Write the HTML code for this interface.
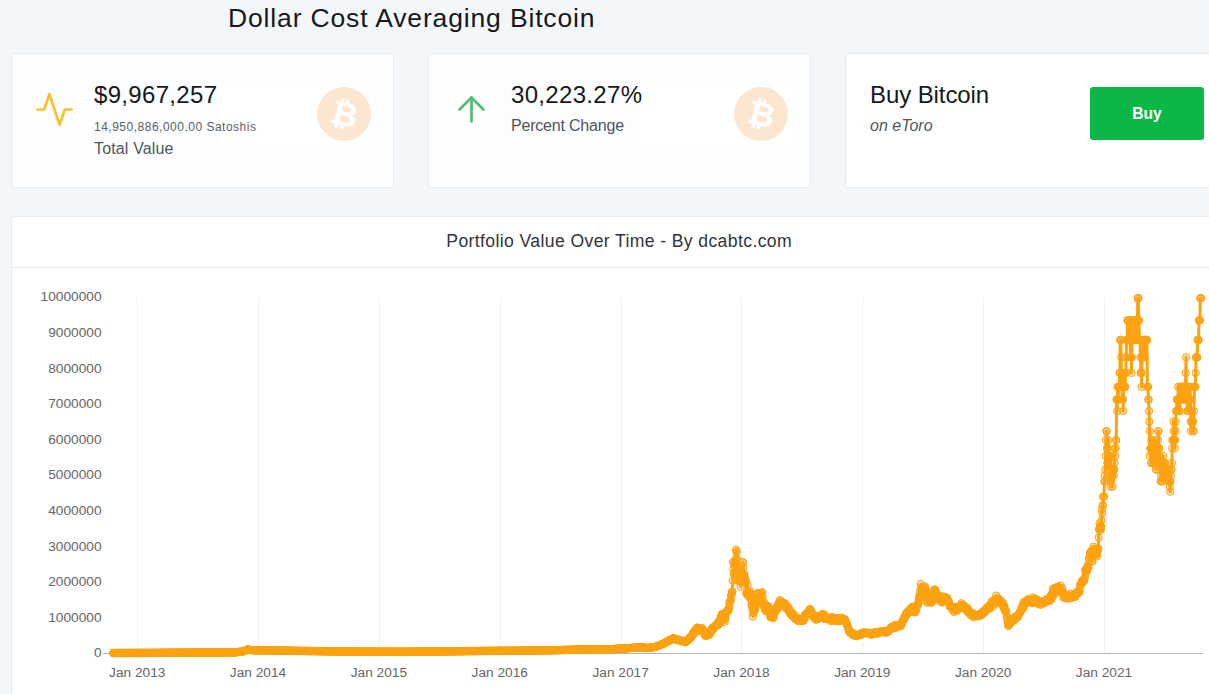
<!DOCTYPE html>
<html lang="en">
<head>
<meta charset="utf-8">
<title>Dollar Cost Averaging Bitcoin</title>
<style>
*{box-sizing:border-box;margin:0;padding:0}
html,body{width:1209px;height:694px;overflow:hidden;background:#f4f7fa}
body{font-family:"Liberation Sans",sans-serif;color:#111;position:relative}
.title{position:absolute;left:228px;top:3px;font-size:26.5px;line-height:30px;color:#16181b;white-space:nowrap;letter-spacing:0.85px}
.card{position:absolute;top:53px;height:135px;width:383px;background:#fcfdfe;border:1px solid #e7ebf1;border-radius:3px}
.card.c3{width:400px;background:#fff}
.wash{position:absolute;background:#fff;left:209px;top:32px;width:154px;height:58px}
.coin{position:absolute;left:305.3px;top:33px;width:54px;height:54px}
.ico{position:absolute;left:22px;top:35.4px;width:41px;height:41px}
.big{position:absolute;left:82px;top:26.6px;font-size:24px;line-height:28px;color:#16181b;white-space:nowrap;letter-spacing:.32px}
.sat{position:absolute;left:82px;top:66px;font-size:12px;line-height:14px;color:#5a5f66;white-space:nowrap;letter-spacing:.5px}
.lab{position:absolute;left:82px;font-size:16px;line-height:18px;color:#50555c;white-space:nowrap}
.btn{position:absolute;left:244px;top:33.2px;width:114px;height:53px;background:#0bb847;border-radius:3px;color:#fff;font-size:15.6px;font-weight:bold;text-align:center;line-height:53px}
.chartcard{position:absolute;left:11px;top:216px;width:1210px;height:500px;background:#fff;border:1px solid #e7ebf1;border-radius:3px}
.chead{position:absolute;left:0;top:0;width:100%;height:51px;border-bottom:1px solid #e7ebf1}
.ctitle{position:absolute;left:434.3px;top:13.4px;font-size:17.6px;line-height:22px;color:#2f353b;white-space:nowrap;letter-spacing:.38px}
svg text{font-family:"Liberation Sans",sans-serif}
</style>
</head>
<body>
<div class="title">Dollar Cost Averaging Bitcoin</div>

<div class="card" style="left:11px">
  <div class="wash"></div>
  <svg class="ico" viewBox="0 0 24 24" fill="none" stroke="#f4c22b" stroke-width="1.6" stroke-linecap="round" stroke-linejoin="round"><polyline points="22 12 18 12 15 21 9 3 6 12 2 12"/></svg>
  <div class="big">$9,967,257</div>
  <div class="sat">14,950,886,000.00 Satoshis</div>
  <div class="lab" style="top:86.4px;letter-spacing:.15px">Total Value</div>
  <svg class="coin" viewBox="0 0 54 54"><circle cx="27" cy="27" r="27" fill="#fde6cf"/><text x="27.5" y="38.5" font-size="33" font-weight="bold" fill="#fff" text-anchor="middle" transform="rotate(14 27 27)">₿</text></svg>
</div>

<div class="card" style="left:428px">
  <div class="wash"></div>
  <svg class="ico" viewBox="0 0 24 24" fill="none" stroke="#52be72" stroke-width="1.6" stroke-linecap="round" stroke-linejoin="round"><line x1="12" y1="19" x2="12" y2="5"/><polyline points="5 12 12 5 19 12"/></svg>
  <div class="big">30,223.27%</div>
  <div class="lab" style="top:63.3px;letter-spacing:-.2px">Percent Change</div>
  <svg class="coin" viewBox="0 0 54 54"><circle cx="27" cy="27" r="27" fill="#fde6cf"/><text x="27.5" y="38.5" font-size="33" font-weight="bold" fill="#fff" text-anchor="middle" transform="rotate(14 27 27)">₿</text></svg>
</div>

<div class="card c3" style="left:845px">
  <div class="big" style="left:24px;letter-spacing:-.09px">Buy Bitcoin</div>
  <div class="lab" style="left:24px;top:63px;font-style:italic">on eToro</div>
  <div class="btn">Buy</div>
</div>

<div class="chartcard">
  <div class="chead"><div class="ctitle">Portfolio Value Over Time - By dcabtc.com</div></div>
</div>

<svg id="chart" width="1209" height="694" viewBox="0 0 1209 694" style="position:absolute;left:0;top:0">
  <g id="grid" stroke="#f2f3f4" stroke-width="1"><line x1="137.5" y1="297" x2="137.5" y2="653"/><line x1="258.5" y1="297" x2="258.5" y2="653"/><line x1="379.5" y1="297" x2="379.5" y2="653"/><line x1="500.5" y1="297" x2="500.5" y2="653"/><line x1="621.5" y1="297" x2="621.5" y2="653"/><line x1="741.5" y1="297" x2="741.5" y2="653"/><line x1="862.5" y1="297" x2="862.5" y2="653"/><line x1="983.5" y1="297" x2="983.5" y2="653"/><line x1="1104.5" y1="297" x2="1104.5" y2="653"/></g><line x1="103" y1="653.5" x2="1203" y2="653.5" stroke="#b4b4b4"/>
  <g id="ylab" font-size="13.7" fill="#666" text-anchor="end"><text x="101.5" y="657.4">0</text><text x="101.5" y="621.8">1000000</text><text x="101.5" y="586.2">2000000</text><text x="101.5" y="550.6">3000000</text><text x="101.5" y="515.0">4000000</text><text x="101.5" y="479.4">5000000</text><text x="101.5" y="443.8">6000000</text><text x="101.5" y="408.2">7000000</text><text x="101.5" y="372.6">8000000</text><text x="101.5" y="337.0">9000000</text><text x="101.5" y="301.4">10000000</text></g>
  <g id="xlab" font-size="13.7" fill="#666" text-anchor="middle"><text x="137.2" y="676.6">Jan 2013</text><text x="258.0" y="676.6">Jan 2014</text><text x="378.9" y="676.6">Jan 2015</text><text x="499.7" y="676.6">Jan 2016</text><text x="620.6" y="676.6">Jan 2017</text><text x="741.5" y="676.6">Jan 2018</text><text x="862.3" y="676.6">Jan 2019</text><text x="983.1" y="676.6">Jan 2020</text><text x="1104.0" y="676.6">Jan 2021</text></g>
<g id="series"><defs><marker id="pt" markerUnits="userSpaceOnUse" markerWidth="10" markerHeight="10" refX="5" refY="5" viewBox="0 0 10 10"><circle cx="5" cy="5" r="3.65" fill="#fca311" fill-opacity=".3" stroke="#fca311" stroke-width="1"/></marker></defs><polyline points="113,653 113.33,653 113.66,653 113.99,653 114.32,653 114.65,653 114.99,652.99 115.32,652.99 115.65,652.99 115.98,652.99 116.31,652.99 116.64,652.99 116.97,652.99 117.3,652.99 117.63,652.99 117.96,652.99 118.29,652.99 118.62,652.98 118.96,652.98 119.29,652.98 119.62,652.98 119.95,652.98 120.28,652.98 120.61,652.98 120.94,652.98 121.27,652.98 121.6,652.98 121.93,652.98 122.26,652.97 122.6,652.97 122.93,652.97 123.26,652.97 123.59,652.97 123.92,652.97 124.25,652.97 124.58,652.97 124.91,652.97 125.24,652.97 125.57,652.97 125.9,652.97 126.23,652.96 126.57,652.96 126.9,652.96 127.23,652.96 127.56,652.96 127.89,652.96 128.22,652.96 128.55,652.96 128.88,652.96 129.21,652.96 129.54,652.96 129.87,652.95 130.21,652.95 130.54,652.95 130.87,652.95 131.2,652.95 131.53,652.95 131.86,652.95 132.19,652.95 132.52,652.95 132.85,652.95 133.18,652.95 133.51,652.94 133.84,652.94 134.18,652.94 134.51,652.94 134.84,652.94 135.17,652.94 135.5,652.94 135.83,652.94 136.16,652.94 136.49,652.94 136.82,652.94 137.15,652.93 137.48,652.93 137.82,652.93 138.15,652.93 138.48,652.93 138.81,652.93 139.14,652.93 139.47,652.93 139.8,652.93 140.13,652.93 140.46,652.93 140.79,652.92 141.12,652.92 141.45,652.92 141.79,652.92 142.12,652.92 142.45,652.92 142.78,652.92 143.11,652.92 143.44,652.92 143.77,652.92 144.1,652.92 144.43,652.92 144.76,652.91 145.09,652.91 145.43,652.91 145.76,652.91 146.09,652.91 146.42,652.91 146.75,652.91 147.08,652.91 147.41,652.91 147.74,652.91 148.07,652.91 148.4,652.9 148.73,652.9 149.06,652.9 149.4,652.9 149.73,652.9 150.06,652.9 150.39,652.9 150.72,652.9 151.05,652.89 151.38,652.89 151.71,652.89 152.04,652.89 152.37,652.89 152.7,652.88 153.04,652.88 153.37,652.88 153.7,652.88 154.03,652.88 154.36,652.87 154.69,652.87 155.02,652.87 155.35,652.87 155.68,652.87 156.01,652.86 156.34,652.86 156.67,652.86 157.01,652.86 157.34,652.86 157.67,652.85 158,652.85 158.33,652.85 158.66,652.85 158.99,652.85 159.32,652.84 159.65,652.84 159.98,652.84 160.31,652.84 160.65,652.84 160.98,652.83 161.31,652.83 161.64,652.83 161.97,652.83 162.3,652.83 162.63,652.82 162.96,652.82 163.29,652.82 163.62,652.82 163.95,652.82 164.28,652.81 164.62,652.81 164.95,652.81 165.28,652.81 165.61,652.81 165.94,652.8 166.27,652.8 166.6,652.8 166.93,652.8 167.26,652.8 167.59,652.79 167.92,652.79 168.26,652.79 168.59,652.79 168.92,652.79 169.25,652.78 169.58,652.78 169.91,652.78 170.24,652.78 170.57,652.78 170.9,652.77 171.23,652.77 171.56,652.77 171.89,652.77 172.23,652.77 172.56,652.76 172.89,652.76 173.22,652.76 173.55,652.76 173.88,652.76 174.21,652.75 174.54,652.75 174.87,652.75 175.2,652.75 175.53,652.75 175.87,652.74 176.2,652.74 176.53,652.74 176.86,652.74 177.19,652.74 177.52,652.73 177.85,652.73 178.18,652.73 178.51,652.73 178.84,652.73 179.17,652.72 179.5,652.72 179.84,652.72 180.17,652.72 180.5,652.72 180.83,652.72 181.16,652.71 181.49,652.71 181.82,652.71 182.15,652.71 182.48,652.71 182.81,652.7 183.14,652.7 183.48,652.7 183.81,652.7 184.14,652.7 184.47,652.69 184.8,652.69 185.13,652.69 185.46,652.69 185.79,652.69 186.12,652.68 186.45,652.68 186.78,652.68 187.11,652.68 187.45,652.68 187.78,652.67 188.11,652.67 188.44,652.67 188.77,652.67 189.1,652.67 189.43,652.66 189.76,652.66 190.09,652.66 190.42,652.66 190.75,652.66 191.09,652.65 191.42,652.65 191.75,652.65 192.08,652.65 192.41,652.65 192.74,652.64 193.07,652.64 193.4,652.64 193.73,652.64 194.06,652.64 194.39,652.63 194.72,652.63 195.06,652.63 195.39,652.63 195.72,652.63 196.05,652.62 196.38,652.62 196.71,652.62 197.04,652.62 197.37,652.62 197.7,652.61 198.03,652.61 198.36,652.61 198.7,652.61 199.03,652.61 199.36,652.6 199.69,652.6 200.02,652.6 200.35,652.6 200.68,652.59 201.01,652.59 201.34,652.59 201.67,652.59 202,652.58 202.33,652.58 202.67,652.58 203,652.57 203.33,652.57 203.66,652.57 203.99,652.57 204.32,652.56 204.65,652.56 204.98,652.56 205.31,652.55 205.64,652.55 205.97,652.55 206.31,652.55 206.64,652.54 206.97,652.54 207.3,652.54 207.63,652.53 207.96,652.53 208.29,652.53 208.62,652.53 208.95,652.52 209.28,652.52 209.61,652.52 209.94,652.51 210.28,652.51 210.61,652.51 210.94,652.51 211.27,652.5 211.6,652.5 211.93,652.5 212.26,652.49 212.59,652.49 212.92,652.49 213.25,652.49 213.58,652.48 213.92,652.48 214.25,652.48 214.58,652.48 214.91,652.47 215.24,652.47 215.57,652.47 215.9,652.46 216.23,652.46 216.56,652.46 216.89,652.46 217.22,652.45 217.55,652.45 217.89,652.45 218.22,652.44 218.55,652.44 218.88,652.44 219.21,652.44 219.54,652.43 219.87,652.43 220.2,652.43 220.53,652.42 220.86,652.42 221.19,652.42 221.53,652.42 221.86,652.41 222.19,652.41 222.52,652.41 222.85,652.4 223.18,652.4 223.51,652.4 223.84,652.4 224.17,652.39 224.5,652.39 224.83,652.39 225.16,652.38 225.5,652.38 225.83,652.38 226.16,652.38 226.49,652.37 226.82,652.37 227.15,652.37 227.48,652.36 227.81,652.36 228.14,652.36 228.47,652.36 228.8,652.35 229.14,652.35 229.47,652.35 229.8,652.34 230.13,652.34 230.46,652.34 230.79,652.34 231.12,652.33 231.45,652.33 231.78,652.33 232.11,652.32 232.44,652.32 232.77,652.32 233.11,652.32 233.44,652.31 233.77,652.31 234.1,652.31 234.43,652.3 234.76,652.3 235.09,652.29 235.42,652.26 235.75,652.22 236.08,652.19 236.41,652.16 236.75,652.13 237.08,652.09 237.41,652.06 237.74,652.03 238.07,651.99 238.4,651.96 238.73,651.93 239.06,651.89 239.39,651.86 239.72,651.83 240.05,651.79 240.38,651.76 240.72,651.73 241.05,651.7 241.38,651.66 241.71,651.63 242.04,651.6 242.37,651.56 242.7,651.53 243.03,651.49 243.36,651.36 243.69,651.22 244.02,651.09 244.36,650.96 244.69,650.83 245.02,650.69 245.35,650.56 245.68,650.43 246.01,650.29 246.34,650.11 246.67,649.93 247,649.74 247.33,649.56 247.66,649.38 247.99,649.36 248.33,649.47 248.66,649.57 248.99,649.68 249.32,649.78 249.65,649.89 249.98,649.99 250.31,650.02 250.64,650.04 250.97,650.06 251.3,650.08 251.63,650.1 251.97,650.12 252.3,650.14 252.63,650.16 252.96,650.18 253.29,650.2 253.62,650.22 253.95,650.24 254.28,650.26 254.61,650.28 254.94,650.3 255.27,650.3 255.6,650.3 255.94,650.3 256.27,650.3 256.6,650.3 256.93,650.3 257.26,650.3 257.59,650.3 257.92,650.3 258.25,650.3 258.58,650.3 258.91,650.3 259.24,650.3 259.58,650.3 259.91,650.3 260.24,650.3 260.57,650.3 260.9,650.3 261.23,650.3 261.56,650.3 261.89,650.3 262.22,650.3 262.55,650.31 262.88,650.31 263.21,650.32 263.55,650.32 263.88,650.33 264.21,650.33 264.54,650.34 264.87,650.34 265.2,650.35 265.53,650.35 265.86,650.36 266.19,650.36 266.52,650.37 266.85,650.37 267.19,650.38 267.52,650.38 267.85,650.39 268.18,650.4 268.51,650.4 268.84,650.41 269.17,650.41 269.5,650.42 269.83,650.42 270.16,650.43 270.49,650.43 270.82,650.44 271.16,650.44 271.49,650.45 271.82,650.45 272.15,650.46 272.48,650.46 272.81,650.47 273.14,650.47 273.47,650.48 273.8,650.48 274.13,650.49 274.46,650.49 274.8,650.5 275.13,650.5 275.46,650.51 275.79,650.51 276.12,650.52 276.45,650.52 276.78,650.53 277.11,650.53 277.44,650.54 277.77,650.54 278.1,650.55 278.43,650.55 278.77,650.56 279.1,650.57 279.43,650.57 279.76,650.58 280.09,650.58 280.42,650.59 280.75,650.59 281.08,650.6 281.41,650.6 281.74,650.61 282.07,650.61 282.41,650.62 282.74,650.62 283.07,650.63 283.4,650.63 283.73,650.64 284.06,650.64 284.39,650.65 284.72,650.66 285.05,650.66 285.38,650.67 285.71,650.67 286.04,650.68 286.38,650.68 286.71,650.69 287.04,650.69 287.37,650.7 287.7,650.7 288.03,650.71 288.36,650.71 288.69,650.72 289.02,650.72 289.35,650.73 289.68,650.73 290.02,650.74 290.35,650.75 290.68,650.75 291.01,650.76 291.34,650.76 291.67,650.77 292,650.77 292.33,650.78 292.66,650.78 292.99,650.79 293.32,650.79 293.65,650.8 293.99,650.8 294.32,650.81 294.65,650.81 294.98,650.82 295.31,650.82 295.64,650.83 295.97,650.84 296.3,650.84 296.63,650.85 296.96,650.85 297.29,650.86 297.63,650.86 297.96,650.87 298.29,650.87 298.62,650.88 298.95,650.88 299.28,650.89 299.61,650.89 299.94,650.9 300.27,650.9 300.6,650.91 300.93,650.91 301.26,650.92 301.6,650.92 301.93,650.93 302.26,650.93 302.59,650.93 302.92,650.94 303.25,650.94 303.58,650.95 303.91,650.95 304.24,650.96 304.57,650.96 304.9,650.97 305.24,650.97 305.57,650.97 305.9,650.98 306.23,650.98 306.56,650.99 306.89,650.99 307.22,651 307.55,651 307.88,651.01 308.21,651.01 308.54,651.01 308.87,651.02 309.21,651.02 309.54,651.03 309.87,651.03 310.2,651.04 310.53,651.04 310.86,651.04 311.19,651.05 311.52,651.05 311.85,651.06 312.18,651.06 312.51,651.07 312.85,651.07 313.18,651.08 313.51,651.08 313.84,651.08 314.17,651.09 314.5,651.09 314.83,651.1 315.16,651.1 315.49,651.11 315.82,651.11 316.15,651.12 316.48,651.12 316.82,651.12 317.15,651.13 317.48,651.13 317.81,651.14 318.14,651.14 318.47,651.15 318.8,651.15 319.13,651.16 319.46,651.16 319.79,651.16 320.12,651.17 320.46,651.17 320.79,651.18 321.12,651.18 321.45,651.19 321.78,651.19 322.11,651.19 322.44,651.2 322.77,651.2 323.1,651.21 323.43,651.21 323.76,651.22 324.09,651.22 324.43,651.23 324.76,651.23 325.09,651.23 325.42,651.24 325.75,651.24 326.08,651.25 326.41,651.25 326.74,651.26 327.07,651.26 327.4,651.27 327.73,651.27 328.07,651.27 328.4,651.28 328.73,651.28 329.06,651.29 329.39,651.29 329.72,651.3 330.05,651.3 330.38,651.3 330.71,651.31 331.04,651.31 331.37,651.31 331.7,651.32 332.04,651.32 332.37,651.32 332.7,651.33 333.03,651.33 333.36,651.33 333.69,651.34 334.02,651.34 334.35,651.34 334.68,651.35 335.01,651.35 335.34,651.35 335.68,651.36 336.01,651.36 336.34,651.36 336.67,651.37 337,651.37 337.33,651.37 337.66,651.38 337.99,651.38 338.32,651.38 338.65,651.39 338.98,651.39 339.31,651.39 339.65,651.4 339.98,651.4 340.31,651.4 340.64,651.41 340.97,651.41 341.3,651.41 341.63,651.42 341.96,651.42 342.29,651.42 342.62,651.43 342.95,651.43 343.29,651.43 343.62,651.44 343.95,651.44 344.28,651.44 344.61,651.45 344.94,651.45 345.27,651.45 345.6,651.46 345.93,651.46 346.26,651.46 346.59,651.47 346.92,651.47 347.26,651.47 347.59,651.48 347.92,651.48 348.25,651.48 348.58,651.49 348.91,651.49 349.24,651.49 349.57,651.5 349.9,651.5 350.23,651.5 350.56,651.51 350.9,651.51 351.23,651.51 351.56,651.52 351.89,651.52 352.22,651.52 352.55,651.53 352.88,651.53 353.21,651.53 353.54,651.54 353.87,651.54 354.2,651.54 354.53,651.55 354.87,651.55 355.2,651.55 355.53,651.56 355.86,651.56 356.19,651.56 356.52,651.57 356.85,651.57 357.18,651.57 357.51,651.58 357.84,651.58 358.17,651.58 358.5,651.59 358.84,651.59 359.17,651.59 359.5,651.59 359.83,651.6 360.16,651.6 360.49,651.6 360.82,651.6 361.15,651.61 361.48,651.61 361.81,651.61 362.14,651.61 362.48,651.61 362.81,651.61 363.14,651.62 363.47,651.62 363.8,651.62 364.13,651.62 364.46,651.62 364.79,651.62 365.12,651.63 365.45,651.63 365.78,651.63 366.11,651.63 366.45,651.63 366.78,651.63 367.11,651.64 367.44,651.64 367.77,651.64 368.1,651.64 368.43,651.64 368.76,651.64 369.09,651.65 369.42,651.65 369.75,651.65 370.09,651.65 370.42,651.65 370.75,651.65 371.08,651.66 371.41,651.66 371.74,651.66 372.07,651.66 372.4,651.66 372.73,651.66 373.06,651.67 373.39,651.67 373.72,651.67 374.06,651.67 374.39,651.67 374.72,651.67 375.05,651.68 375.38,651.68 375.71,651.68 376.04,651.68 376.37,651.68 376.7,651.68 377.03,651.69 377.36,651.69 377.7,651.69 378.03,651.69 378.36,651.69 378.69,651.69 379.02,651.7 379.35,651.7 379.68,651.7 380.01,651.7 380.34,651.7 380.67,651.7 381,651.71 381.33,651.71 381.67,651.71 382,651.71 382.33,651.71 382.66,651.71 382.99,651.71 383.32,651.72 383.65,651.72 383.98,651.72 384.31,651.72 384.64,651.72 384.97,651.72 385.31,651.73 385.64,651.73 385.97,651.73 386.3,651.73 386.63,651.73 386.96,651.73 387.29,651.74 387.62,651.74 387.95,651.74 388.28,651.74 388.61,651.74 388.94,651.74 389.28,651.75 389.61,651.75 389.94,651.75 390.27,651.75 390.6,651.75 390.93,651.75 391.26,651.76 391.59,651.76 391.92,651.76 392.25,651.76 392.58,651.76 392.92,651.76 393.25,651.77 393.58,651.77 393.91,651.77 394.24,651.77 394.57,651.77 394.9,651.77 395.23,651.78 395.56,651.78 395.89,651.78 396.22,651.78 396.55,651.78 396.89,651.78 397.22,651.79 397.55,651.79 397.88,651.79 398.21,651.79 398.54,651.79 398.87,651.79 399.2,651.8 399.53,651.8 399.86,651.8 400.19,651.8 400.53,651.79 400.86,651.79 401.19,651.79 401.52,651.78 401.85,651.78 402.18,651.78 402.51,651.77 402.84,651.77 403.17,651.77 403.5,651.76 403.83,651.76 404.16,651.76 404.5,651.76 404.83,651.75 405.16,651.75 405.49,651.75 405.82,651.74 406.15,651.74 406.48,651.74 406.81,651.73 407.14,651.73 407.47,651.73 407.8,651.72 408.14,651.72 408.47,651.72 408.8,651.71 409.13,651.71 409.46,651.71 409.79,651.7 410.12,651.7 410.45,651.7 410.78,651.69 411.11,651.69 411.44,651.69 411.77,651.68 412.11,651.68 412.44,651.68 412.77,651.67 413.1,651.67 413.43,651.67 413.76,651.66 414.09,651.66 414.42,651.66 414.75,651.65 415.08,651.65 415.41,651.65 415.75,651.64 416.08,651.64 416.41,651.64 416.74,651.63 417.07,651.63 417.4,651.63 417.73,651.62 418.06,651.62 418.39,651.62 418.72,651.61 419.05,651.61 419.38,651.61 419.72,651.6 420.05,651.6 420.38,651.6 420.71,651.59 421.04,651.59 421.37,651.59 421.7,651.58 422.03,651.58 422.36,651.58 422.69,651.57 423.02,651.57 423.36,651.57 423.69,651.56 424.02,651.56 424.35,651.56 424.68,651.55 425.01,651.55 425.34,651.55 425.67,651.54 426,651.54 426.33,651.54 426.66,651.53 426.99,651.53 427.33,651.53 427.66,651.52 427.99,651.52 428.32,651.52 428.65,651.51 428.98,651.51 429.31,651.51 429.64,651.5 429.97,651.5 430.3,651.5 430.63,651.49 430.97,651.49 431.3,651.49 431.63,651.48 431.96,651.48 432.29,651.48 432.62,651.47 432.95,651.47 433.28,651.47 433.61,651.46 433.94,651.46 434.27,651.46 434.6,651.45 434.94,651.45 435.27,651.45 435.6,651.44 435.93,651.44 436.26,651.44 436.59,651.43 436.92,651.43 437.25,651.43 437.58,651.42 437.91,651.42 438.24,651.42 438.58,651.41 438.91,651.41 439.24,651.41 439.57,651.4 439.9,651.4 440.23,651.4 440.56,651.39 440.89,651.39 441.22,651.39 441.55,651.38 441.88,651.38 442.21,651.38 442.55,651.37 442.88,651.37 443.21,651.37 443.54,651.36 443.87,651.36 444.2,651.36 444.53,651.35 444.86,651.35 445.19,651.35 445.52,651.34 445.85,651.34 446.19,651.34 446.52,651.33 446.85,651.33 447.18,651.33 447.51,651.32 447.84,651.32 448.17,651.32 448.5,651.31 448.83,651.31 449.16,651.31 449.49,651.3 449.82,651.3 450.16,651.3 450.49,651.29 450.82,651.29 451.15,651.29 451.48,651.28 451.81,651.28 452.14,651.28 452.47,651.27 452.8,651.27 453.13,651.27 453.46,651.26 453.8,651.26 454.13,651.26 454.46,651.25 454.79,651.25 455.12,651.25 455.45,651.24 455.78,651.24 456.11,651.24 456.44,651.23 456.77,651.23 457.1,651.23 457.43,651.22 457.77,651.22 458.1,651.22 458.43,651.21 458.76,651.21 459.09,651.21 459.42,651.2 459.75,651.2 460.08,651.2 460.41,651.19 460.74,651.19 461.07,651.18 461.41,651.18 461.74,651.18 462.07,651.17 462.4,651.17 462.73,651.17 463.06,651.16 463.39,651.16 463.72,651.16 464.05,651.15 464.38,651.15 464.71,651.15 465.04,651.14 465.38,651.14 465.71,651.14 466.04,651.13 466.37,651.13 466.7,651.13 467.03,651.12 467.36,651.12 467.69,651.12 468.02,651.11 468.35,651.11 468.68,651.11 469.02,651.1 469.35,651.1 469.68,651.1 470.01,651.09 470.34,651.09 470.67,651.09 471,651.08 471.33,651.08 471.66,651.08 471.99,651.07 472.32,651.07 472.65,651.07 472.99,651.06 473.32,651.06 473.65,651.06 473.98,651.05 474.31,651.05 474.64,651.05 474.97,651.04 475.3,651.04 475.63,651.04 475.96,651.03 476.29,651.03 476.63,651.03 476.96,651.02 477.29,651.02 477.62,651.02 477.95,651.01 478.28,651.01 478.61,651.01 478.94,651 479.27,651 479.6,651 479.93,650.99 480.26,650.99 480.6,650.99 480.93,650.98 481.26,650.98 481.59,650.98 481.92,650.97 482.25,650.97 482.58,650.97 482.91,650.96 483.24,650.96 483.57,650.96 483.9,650.95 484.24,650.95 484.57,650.95 484.9,650.94 485.23,650.94 485.56,650.94 485.89,650.93 486.22,650.93 486.55,650.92 486.88,650.92 487.21,650.92 487.54,650.91 487.87,650.91 488.21,650.91 488.54,650.9 488.87,650.9 489.2,650.9 489.53,650.9 489.86,650.89 490.19,650.89 490.52,650.89 490.85,650.89 491.18,650.89 491.51,650.88 491.85,650.88 492.18,650.88 492.51,650.88 492.84,650.88 493.17,650.87 493.5,650.87 493.83,650.87 494.16,650.87 494.49,650.86 494.82,650.86 495.15,650.86 495.48,650.86 495.82,650.86 496.15,650.85 496.48,650.85 496.81,650.85 497.14,650.85 497.47,650.85 497.8,650.84 498.13,650.84 498.46,650.84 498.79,650.84 499.12,650.83 499.46,650.83 499.79,650.83 500.12,650.83 500.45,650.83 500.78,650.82 501.11,650.82 501.44,650.82 501.77,650.82 502.1,650.82 502.43,650.81 502.76,650.81 503.09,650.81 503.43,650.81 503.76,650.8 504.09,650.8 504.42,650.8 504.75,650.8 505.08,650.8 505.41,650.79 505.74,650.79 506.07,650.79 506.4,650.79 506.73,650.79 507.07,650.78 507.4,650.78 507.73,650.78 508.06,650.78 508.39,650.77 508.72,650.77 509.05,650.77 509.38,650.77 509.71,650.77 510.04,650.76 510.37,650.76 510.7,650.76 511.04,650.76 511.37,650.76 511.7,650.75 512.03,650.75 512.36,650.75 512.69,650.75 513.02,650.75 513.35,650.74 513.68,650.74 514.01,650.74 514.34,650.74 514.68,650.73 515.01,650.73 515.34,650.73 515.67,650.73 516,650.73 516.33,650.72 516.66,650.72 516.99,650.72 517.32,650.72 517.65,650.72 517.98,650.71 518.31,650.71 518.65,650.71 518.98,650.71 519.31,650.7 519.64,650.7 519.97,650.7 520.3,650.7 520.63,650.69 520.96,650.69 521.29,650.68 521.62,650.68 521.95,650.67 522.29,650.67 522.62,650.66 522.95,650.66 523.28,650.65 523.61,650.65 523.94,650.64 524.27,650.64 524.6,650.63 524.93,650.63 525.26,650.62 525.59,650.62 525.92,650.61 526.26,650.61 526.59,650.6 526.92,650.6 527.25,650.59 527.58,650.59 527.91,650.58 528.24,650.58 528.57,650.57 528.9,650.57 529.23,650.56 529.56,650.56 529.9,650.55 530.23,650.55 530.56,650.54 530.89,650.54 531.22,650.53 531.55,650.53 531.88,650.52 532.21,650.51 532.54,650.51 532.87,650.5 533.2,650.5 533.53,650.49 533.87,650.49 534.2,650.48 534.53,650.48 534.86,650.47 535.19,650.47 535.52,650.46 535.85,650.46 536.18,650.45 536.51,650.45 536.84,650.44 537.17,650.44 537.51,650.43 537.84,650.43 538.17,650.42 538.5,650.42 538.83,650.41 539.16,650.41 539.49,650.4 539.82,650.4 540.15,650.39 540.48,650.39 540.81,650.38 541.14,650.38 541.48,650.37 541.81,650.37 542.14,650.36 542.47,650.36 542.8,650.35 543.13,650.35 543.46,650.34 543.79,650.34 544.12,650.33 544.45,650.33 544.78,650.32 545.12,650.32 545.45,650.31 545.78,650.31 546.11,650.3 546.44,650.3 546.77,650.29 547.1,650.29 547.43,650.28 547.76,650.28 548.09,650.27 548.42,650.27 548.75,650.26 549.09,650.26 549.42,650.25 549.75,650.25 550.08,650.24 550.41,650.24 550.74,650.23 551.07,650.23 551.4,650.22 551.73,650.22 552.06,650.21 552.39,650.21 552.73,650.2 553.06,650.2 553.39,650.19 553.72,650.18 554.05,650.18 554.38,650.17 554.71,650.16 555.04,650.15 555.37,650.15 555.7,650.14 556.03,650.13 556.36,650.13 556.7,650.12 557.03,650.11 557.36,650.1 557.69,650.1 558.02,650.09 558.35,650.08 558.68,650.07 559.01,650.07 559.34,650.06 559.67,650.05 560,650.04 560.34,650.04 560.67,650.03 561,650.02 561.33,650.01 561.66,650.01 561.99,650 562.32,649.99 562.65,649.99 562.98,649.98 563.31,649.97 563.64,649.96 563.97,649.96 564.31,649.95 564.64,649.94 564.97,649.93 565.3,649.93 565.63,649.92 565.96,649.91 566.29,649.9 566.62,649.9 566.95,649.89 567.28,649.88 567.61,649.88 567.95,649.87 568.28,649.86 568.61,649.85 568.94,649.85 569.27,649.84 569.6,649.83 569.93,649.82 570.26,649.82 570.59,649.81 570.92,649.8 571.25,649.79 571.58,649.79 571.92,649.78 572.25,649.77 572.58,649.76 572.91,649.76 573.24,649.75 573.57,649.74 573.9,649.74 574.23,649.73 574.56,649.72 574.89,649.71 575.22,649.71 575.56,649.7 575.89,649.69 576.22,649.68 576.55,649.68 576.88,649.67 577.21,649.66 577.54,649.65 577.87,649.65 578.2,649.64 578.53,649.63 578.86,649.63 579.19,649.62 579.53,649.61 579.86,649.6 580.19,649.6 580.52,649.59 580.85,649.58 581.18,649.58 581.51,649.57 581.84,649.56 582.17,649.56 582.5,649.55 582.83,649.54 583.17,649.54 583.5,649.53 583.83,649.52 584.16,649.52 584.49,649.51 584.82,649.5 585.15,649.5 585.48,649.49 585.81,649.48 586.14,649.48 586.47,649.47 586.8,649.46 587.14,649.46 587.47,649.45 587.8,649.44 588.13,649.44 588.46,649.43 588.79,649.42 589.12,649.42 589.45,649.41 589.78,649.4 590.11,649.4 590.44,649.39 590.78,649.38 591.11,649.38 591.44,649.37 591.77,649.36 592.1,649.36 592.43,649.35 592.76,649.34 593.09,649.34 593.42,649.33 593.75,649.32 594.08,649.32 594.41,649.31 594.75,649.31 595.08,649.3 595.41,649.29 595.74,649.29 596.07,649.28 596.4,649.27 596.73,649.27 597.06,649.26 597.39,649.25 597.72,649.25 598.05,649.24 598.39,649.23 598.72,649.23 599.05,649.22 599.38,649.21 599.71,649.21 600.04,649.2 600.37,649.21 600.7,649.21 601.03,649.22 601.36,649.23 601.69,649.23 602.02,649.24 602.36,649.25 602.69,649.25 603.02,649.26 603.35,649.27 603.68,649.27 604.01,649.28 604.34,649.29 604.67,649.29 605,649.3 605.33,649.31 605.66,649.31 606,649.32 606.33,649.33 606.66,649.33 606.99,649.34 607.32,649.35 607.65,649.35 607.98,649.36 608.31,649.37 608.64,649.37 608.97,649.38 609.3,649.39 609.63,649.39 609.97,649.4 610.3,649.38 610.63,649.35 610.96,649.32 611.29,649.3 611.62,649.27 611.95,649.24 612.28,649.22 612.61,649.19 612.94,649.16 613.27,649.14 613.61,649.11 613.94,649.08 614.27,649.06 614.6,649.03 614.93,649 615.26,648.97 615.59,648.95 615.92,648.92 616.25,648.89 616.58,648.87 616.91,648.84 617.24,648.81 617.58,648.79 617.91,648.76 618.24,648.73 618.57,648.71 618.9,648.68 619.23,648.65 619.56,648.63 619.89,648.6 620.22,648.58 620.55,648.57 620.88,648.55 621.22,648.53 621.55,648.52 621.88,648.5 622.21,648.48 622.54,648.47 622.87,648.45 623.2,648.43 623.53,648.42 623.86,648.4 624.19,648.39 624.52,648.37 624.85,648.35 625.19,648.34 625.52,648.32 625.85,648.3 626.18,648.29 626.51,648.27 626.84,648.25 627.17,648.24 627.5,648.22 627.83,648.2 628.16,648.19 628.49,648.17 628.83,648.15 629.16,648.14 629.49,648.12 629.82,648.1 630.15,648.08 630.48,648.05 630.81,648.02 631.14,647.99 631.47,647.96 631.8,647.93 632.13,647.9 632.46,647.87 632.8,647.84 633.13,647.81 633.46,647.78 633.79,647.75 634.12,647.72 634.45,647.69 634.78,647.66 635.11,647.63 635.44,647.6 635.77,647.57 636.1,647.54 636.44,647.51 636.77,647.48 637.1,647.45 637.43,647.42 637.76,647.39 638.09,647.36 638.42,647.33 638.75,647.3 639.08,647.27 639.41,647.24 639.74,647.21 640.07,647.23 640.41,647.26 640.74,647.29 641.07,647.33 641.4,647.36 641.73,647.4 642.06,647.43 642.39,647.46 642.72,647.5 643.05,647.53 643.38,647.56 643.71,647.6 644.05,647.63 644.38,647.66 644.71,647.7 645.04,647.73 645.37,647.76 645.7,647.8 646.03,647.83 646.36,647.86 646.69,647.9 647.02,647.93 647.35,647.96 647.68,648 648.02,647.95 648.35,647.9 648.68,647.85 649.01,647.8 649.34,647.75 649.67,647.69 650,647.64 650.33,647.59 650.66,647.54 650.99,647.49 651.32,647.44 651.66,647.38 651.99,647.33 652.32,647.28 652.65,647.23 652.98,647.18 653.31,647.13 653.64,647.08 653.97,647.02 654.3,646.97 654.63,646.92 654.96,646.87 655.29,646.82 655.63,646.77 655.96,646.72 656.29,646.66 656.62,646.61 656.95,646.49 657.28,646.35 657.61,646.2 657.94,646.06 658.27,645.92 658.6,645.77 658.93,645.63 659.27,645.48 659.6,645.34 659.93,645.2 660.26,645.05 660.59,644.91 660.92,644.77 661.25,644.62 661.58,644.48 661.91,644.33 662.24,644.19 662.57,644.05 662.9,643.9 663.24,643.76 663.57,643.61 663.9,643.43 664.23,643.24 664.56,643.06 664.89,642.87 665.22,642.68 665.55,642.49 665.88,642.31 666.21,642.12 666.54,641.93 666.88,641.74 667.21,641.56 667.54,641.37 667.87,641.18 668.2,640.92 668.53,640.96 668.86,640.55 669.19,640.33 669.52,639.95 669.85,640.03 670.18,640.32 670.51,639.96 670.85,640.03 671.18,639.64 671.51,639.55 671.84,639.35 672.17,638.57 672.5,639.31 672.83,639.05 673.16,638.92 673.49,637.99 673.82,638.06 674.15,638.46 674.49,638.7 674.82,639.06 675.15,639.02 675.48,639.31 675.81,638.99 676.14,639.41 676.47,639.53 676.8,639.26 677.13,640.15 677.46,639.84 677.79,640.14 678.12,639.63 678.46,639.68 678.79,639.9 679.12,640.06 679.45,640.39 679.78,640.37 680.11,640.27 680.44,640.22 680.77,640.47 681.1,641.12 681.43,640.61 681.76,641.04 682.1,641.08 682.43,641.19 682.76,641.3 683.09,641.42 683.42,641.53 683.75,641.64 684.08,641.75 684.41,641.86 684.74,641.98 685.07,642.09 685.4,642.2 685.73,641.91 686.07,641.62 686.4,641.33 686.73,641.04 687.06,640.88 687.39,639.99 687.72,640.19 688.05,640.31 688.38,638.92 688.71,639.19 689.04,638.97 689.37,638.43 689.71,638.5 690.04,637.87 690.37,636.58 690.7,637.61 691.03,637.1 691.36,636.88 691.69,636.83 692.02,635.68 692.35,635.1 692.68,633.64 693.01,634.65 693.34,633.3 693.68,633.02 694.01,631.98 694.34,631.82 694.67,631.78 695,632.93 695.33,629.7 695.66,629.78 695.99,630.89 696.32,631.6 696.65,630.62 696.98,628.18 697.32,627.45 697.65,629.97 697.98,628.79 698.31,628.27 698.64,630.11 698.97,630.09 699.3,629.03 699.63,628.97 699.96,629.01 700.29,630 700.62,628.89 700.95,628.93 701.29,629.41 701.62,627.86 701.95,631 702.28,631.14 702.61,631.2 702.94,629.47 703.27,631.12 703.6,632.85 703.93,631.16 704.26,632.98 704.59,634.41 704.93,633.11 705.26,635.78 705.59,635.48 705.92,635.24 706.25,635.41 706.58,635.49 706.91,634.95 707.24,635.54 707.57,634.05 707.9,634.07 708.23,635 708.56,634.08 708.9,633.22 709.23,634.47 709.56,634.46 709.89,632.45 710.22,631.17 710.55,631.69 710.88,631.18 711.21,630.54 711.54,631.58 711.87,628.85 712.2,630.5 712.54,627.58 712.87,627.53 713.2,628.44 713.53,628.62 713.86,628.03 714.19,627.17 714.52,626.63 714.85,626.31 715.18,626.44 715.51,625.29 715.84,625.47 716.17,625.47 716.51,624.5 716.84,625.04 717.17,624.49 717.5,625.87 717.83,623.56 718.16,622.32 718.49,622.05 718.82,622.16 719.15,623 719.48,621.09 719.81,621.68 720.15,623.22 720.48,617.19 720.81,618.72 721.14,617.7 721.47,616.12 721.8,615.06 722.13,614.01 722.46,614.01 722.79,616.12 723.12,615.59 723.45,613.48 723.78,615.59 724.12,618.23 724.45,619.81 724.78,621.91 725.11,618.75 725.44,618.23 725.77,614.54 726.1,611.9 726.43,612.43 726.76,611.9 727.09,610.85 727.42,609.8 727.76,610.32 728.09,609.8 728.42,610.85 728.75,609.8 729.08,607.16 729.41,604 729.74,601.89 730.07,600.84 730.4,600.84 730.73,600.31 731.06,595.57 731.39,595.04 731.73,593.99 732.06,591.88 732.39,591.36 732.72,580.82 733.05,562.16 733.38,568.7 733.71,573.97 734.04,573.97 734.37,563.7 734.7,562.16 735.03,565.19 735.37,565.19 735.7,558.91 736.03,549.69 736.36,551.68 736.69,551.68 737.02,558.91 737.35,565.19 737.68,570.81 738.01,580.82 738.34,576.6 738.67,580.29 739,579.24 739.34,569.75 739.67,571.86 740,577.13 740.33,576.08 740.66,586.61 740.99,579.24 741.32,581.87 741.65,575.02 741.98,573.44 742.31,572.91 742.64,562.16 742.98,562.16 743.31,567.65 743.64,573.97 743.97,576.6 744.3,574.49 744.63,582.92 744.96,580.29 745.29,578.18 745.62,581.34 745.95,581.34 746.28,592.94 746.61,593.99 746.95,593.46 747.28,592.41 747.61,585.56 747.94,592.41 748.27,596.1 748.6,595.57 748.93,593.46 749.26,593.99 749.59,594.52 749.92,592.94 750.25,591.36 750.59,593.99 750.92,599.79 751.25,599.26 751.58,605.05 751.91,606.63 752.24,604.53 752.57,609.8 752.9,616.65 753.23,612.43 753.56,612.96 753.89,609.8 754.22,607.16 754.56,608.22 754.89,610.32 755.22,606.11 755.55,608.22 755.88,602.95 756.21,600.31 756.54,599.26 756.87,594.52 757.2,597.68 757.53,593.99 757.86,592.94 758.2,597.68 758.53,600.84 758.86,599.26 759.19,601.89 759.52,602.42 759.85,598.73 760.18,597.15 760.51,598.73 760.84,595.57 761.17,595.04 761.5,592.94 761.83,592.41 762.17,592.41 762.5,596.62 762.83,600.84 763.16,604 763.49,604.53 763.82,606.63 764.15,602.95 764.48,605.05 764.81,605.05 765.14,609.8 765.47,609.8 765.81,609.27 766.14,611.38 766.47,609.8 766.8,607.69 767.13,606.11 767.46,606.11 767.79,607.16 768.12,606.11 768.45,608.22 768.78,608.74 769.11,610.32 769.44,611.9 769.78,611.38 770.11,615.59 770.44,617.17 770.77,616.65 771.1,615.42 771.43,616.02 771.76,616.32 772.09,616.17 772.42,617.61 772.75,617.53 773.08,616.03 773.42,618.01 773.75,615.32 774.08,613.68 774.41,613.35 774.74,612.45 775.07,611.85 775.4,608.3 775.73,609.87 776.06,610.71 776.39,607.65 776.72,608.25 777.05,608.78 777.39,608.07 777.72,608.2 778.05,603.85 778.38,604.81 778.71,604.2 779.04,604.76 779.37,604.99 779.7,600.2 780.03,604.75 780.36,601.48 780.69,604.01 781.03,601.18 781.36,603.14 781.69,604.3 782.02,602.49 782.35,602.8 782.68,603.45 783.01,602.81 783.34,602.89 783.67,605.27 784,605.03 784.33,603.75 784.66,607.81 785,603.47 785.33,606.31 785.66,605.27 785.99,606.11 786.32,607.15 786.65,607.08 786.98,608.05 787.31,606.09 787.64,606.63 787.97,609.49 788.3,608.25 788.64,608.69 788.97,608.73 789.3,612.13 789.63,612.07 789.96,613.31 790.29,611.33 790.62,612.65 790.95,611.87 791.28,614.14 791.61,615.3 791.94,613.24 792.27,615.97 792.61,615.77 792.94,615.03 793.27,613.71 793.6,617.22 793.93,616.19 794.26,616.1 794.59,617.31 794.92,617.56 795.25,618.78 795.58,616.8 795.91,618.95 796.25,619.5 796.58,619.71 796.91,618.55 797.24,618.32 797.57,620.07 797.9,619.56 798.23,619.81 798.56,621.14 798.89,620 799.22,618.6 799.55,620.24 799.88,618.95 800.22,621.02 800.55,620.52 800.88,619.65 801.21,620.05 801.54,620.65 801.87,619.92 802.2,620.86 802.53,619.61 802.86,620.43 803.19,620.71 803.52,620.56 803.86,618.07 804.19,618.87 804.52,615.9 804.85,616.04 805.18,614.68 805.51,616.92 805.84,614.23 806.17,614.83 806.5,614.11 806.83,613.86 807.16,612.9 807.49,613.31 807.83,614.48 808.16,612.31 808.49,612.4 808.82,612.49 809.15,610.84 809.48,609.31 809.81,609.64 810.14,611.4 810.47,609.1 810.8,610.8 811.13,613.04 811.47,613.39 811.8,613.18 812.13,614.55 812.46,614.5 812.79,613.8 813.12,614.04 813.45,615.48 813.78,617.48 814.11,616.71 814.44,616.99 814.77,617.68 815.1,617.61 815.44,619.39 815.77,618.47 816.1,619.59 816.43,617.1 816.76,619.2 817.09,618.2 817.42,616.9 817.75,619.02 818.08,617.97 818.41,616.09 818.74,617.09 819.08,617.94 819.41,617.1 819.74,618.01 820.07,617.76 820.4,617.48 820.73,616.95 821.06,617.66 821.39,616.83 821.72,616.42 822.05,613.85 822.38,616.41 822.71,616.59 823.05,614.85 823.38,614.92 823.71,617.48 824.04,614.36 824.37,616.73 824.7,618.81 825.03,616.08 825.36,617.85 825.69,619.22 826.02,617.75 826.35,618.66 826.69,619.19 827.02,617.67 827.35,618.41 827.68,618.78 828.01,619.28 828.34,618.58 828.67,618.48 829,617.82 829.33,618.43 829.66,619.54 829.99,618.9 830.32,618.13 830.66,618.18 830.99,621.2 831.32,619.93 831.65,619.54 831.98,616.83 832.31,619.59 832.64,619.5 832.97,620.55 833.3,619.52 833.63,619.14 833.96,619.67 834.3,617.62 834.63,620.16 834.96,619.6 835.29,618.77 835.62,620.51 835.95,620.92 836.28,618.22 836.61,618.84 836.94,619.64 837.27,619.55 837.6,619.07 837.93,618.58 838.27,621.18 838.6,620.27 838.93,618.4 839.26,618.27 839.59,620.83 839.92,620.23 840.25,620.93 840.58,620.08 840.91,618.67 841.24,619.62 841.57,617.59 841.9,618.77 842.24,619.35 842.57,619.84 842.9,618.79 843.23,619.3 843.56,619.79 843.89,619.72 844.22,619.94 844.55,619.58 844.88,619.33 845.21,621.04 845.54,621.23 845.88,621.34 846.21,622.3 846.54,623.57 846.87,624.28 847.2,625.27 847.53,626.1 847.86,627.22 848.19,628.04 848.52,628.38 848.85,630.38 849.18,631.72 849.51,631.91 849.85,631.86 850.18,632.46 850.51,632.01 850.84,631.82 851.17,633.09 851.5,632.88 851.83,633.97 852.16,633.37 852.49,632.92 852.82,633.95 853.15,635.29 853.49,634.47 853.82,634.1 854.15,634.46 854.48,635.13 854.81,635.2 855.14,635.14 855.47,635.81 855.8,635.54 856.13,635.3 856.46,635.65 856.79,636.2 857.12,635.82 857.46,635.68 857.79,634.57 858.12,634.82 858.45,635.06 858.78,634.42 859.11,634.89 859.44,634.51 859.77,634.49 860.1,633.8 860.43,634.96 860.76,634.17 861.1,633.35 861.43,633.42 861.76,634.57 862.09,633.04 862.42,633.56 862.75,633.54 863.08,632.97 863.41,632.3 863.74,632.9 864.07,632.91 864.4,633.22 864.73,632.96 865.07,632.53 865.4,633.05 865.73,632.99 866.06,632.92 866.39,632.94 866.72,632.89 867.05,633.46 867.38,632.69 867.71,633 868.04,633.42 868.37,632.8 868.71,633.4 869.04,632.74 869.37,633.48 869.7,634.18 870.03,634.26 870.36,633.92 870.69,633.79 871.02,633.18 871.35,634.68 871.68,634.01 872.01,634.24 872.34,633.24 872.68,633.53 873.01,632.69 873.34,633.9 873.67,633.93 874,632.5 874.33,633.36 874.66,633.64 874.99,632.42 875.32,632.34 875.65,632.66 875.98,632.83 876.32,632.4 876.65,633.07 876.98,633.13 877.31,633.24 877.64,633.19 877.97,633.52 878.3,633.27 878.63,631.92 878.96,632.25 879.29,631.88 879.62,631.79 879.95,632.22 880.29,632.18 880.62,632.35 880.95,631.18 881.28,631.28 881.61,631.84 881.94,631.66 882.27,631.55 882.6,631.73 882.93,631.42 883.26,632.25 883.59,632.12 883.93,631.95 884.26,631.7 884.59,632.02 884.92,630.74 885.25,631.71 885.58,632.29 885.91,631.55 886.24,632.49 886.57,632.52 886.9,631.79 887.23,632.04 887.56,631.67 887.9,631.75 888.23,631.51 888.56,630.82 888.89,630.03 889.22,630.1 889.55,629.81 889.88,629.95 890.21,629.36 890.54,628.42 890.87,627.7 891.2,627.96 891.54,627.4 891.87,626.83 892.2,627.2 892.53,626.86 892.86,627.14 893.19,627.31 893.52,626.61 893.85,628.3 894.18,626.47 894.51,627.31 894.84,626.56 895.17,627.12 895.51,624.7 895.84,625.68 896.17,626.25 896.5,626.39 896.83,627.47 897.16,626.01 897.49,626.56 897.82,626.12 898.15,626.14 898.48,625.74 898.81,625.19 899.15,625.55 899.48,624.34 899.81,625.82 900.14,624.18 900.47,624.97 900.8,626.2 901.13,623.87 901.46,623.38 901.79,623.58 902.12,622.05 902.45,620.72 902.78,620.9 903.12,620.5 903.45,619.95 903.78,618.02 904.11,619.55 904.44,618.84 904.77,616.7 905.1,616.26 905.43,614.94 905.76,616.03 906.09,613.49 906.42,614.45 906.76,612.92 907.09,612.31 907.42,613.35 907.75,613.59 908.08,611.83 908.41,610.75 908.74,611.92 909.07,610.63 909.4,610.62 909.73,611.54 910.06,610.75 910.39,608.56 910.73,611.27 911.06,608.35 911.39,609.23 911.72,607.69 912.05,608.41 912.38,607.59 912.71,606.58 913.04,609.45 913.37,612.1 913.7,611.57 914.03,611.57 914.37,610.51 914.7,610.77 915.03,612.37 915.36,610.51 915.69,611.04 916.02,609.71 916.35,609.18 916.68,606.79 917.01,605.99 917.34,605.2 917.67,603.6 918,604.67 918.34,603.6 918.67,602.54 919,598.82 919.33,596.17 919.66,595.37 919.99,594.57 920.32,590.32 920.65,583.95 920.98,593.51 921.31,587.14 921.64,589.79 921.98,595.64 922.31,596.7 922.64,595.64 922.97,589.53 923.3,593.51 923.63,594.57 923.96,593.25 924.29,592.18 924.62,587.67 924.95,586.34 925.28,588.73 925.61,592.71 925.95,590.32 926.28,592.45 926.61,598.56 926.94,595.37 927.27,602.81 927.6,601.48 927.93,596.43 928.26,596.96 928.59,595.9 928.92,596.7 929.25,598.03 929.59,600.42 929.92,600.95 930.25,600.42 930.58,600.68 930.91,602.54 931.24,602.27 931.57,602.54 931.9,602.01 932.23,599.35 932.56,597.76 932.89,597.23 933.22,595.64 933.56,594.84 933.89,590.32 934.22,591.92 934.55,589.53 934.88,589.53 935.21,590.06 935.54,592.98 935.87,591.92 936.2,592.45 936.53,595.1 936.86,599.62 937.2,598.29 937.53,598.03 937.86,598.82 938.19,598.03 938.52,595.1 938.85,595.9 939.18,599.09 939.51,599.35 939.84,597.76 940.17,599.09 940.5,599.09 940.83,598.03 941.17,598.82 941.5,601.21 941.83,602.54 942.16,602.01 942.49,602.01 942.82,596.52 943.15,601.36 943.48,600.85 943.81,597.42 944.14,597.09 944.47,597 944.81,600.81 945.14,598.67 945.47,599.27 945.8,598.99 946.13,599.3 946.46,598.07 946.79,599.61 947.12,597.72 947.45,599.6 947.78,600.76 948.11,601.72 948.44,601.57 948.78,601.49 949.11,603.58 949.44,603.55 949.77,606.79 950.1,606.57 950.43,606.29 950.76,606.64 951.09,606.78 951.42,606.65 951.75,607.45 952.08,608.32 952.42,608.7 952.75,608.89 953.08,610.73 953.41,607.74 953.74,608.68 954.07,611.89 954.4,606.88 954.73,608.5 955.06,609.39 955.39,609.51 955.72,609.92 956.05,609.35 956.39,610.14 956.72,609.94 957.05,610.77 957.38,607.5 957.71,608.19 958.04,608.76 958.37,607.22 958.7,606.81 959.03,608.3 959.36,606.45 959.69,607.54 960.03,607.28 960.36,606.38 960.69,606.23 961.02,605.11 961.35,603.24 961.68,605.09 962.01,605.87 962.34,604.9 962.67,605.61 963,606.81 963.33,605.1 963.66,607.08 964,608.69 964.33,606.09 964.66,607.1 964.99,606.96 965.32,609.09 965.65,607.93 965.98,609.04 966.31,607.73 966.64,608.94 966.97,609.41 967.3,607.96 967.64,611.88 967.97,611.75 968.3,609.44 968.63,612.49 968.96,612.05 969.29,613.1 969.62,613.48 969.95,612.04 970.28,613.43 970.61,615.23 970.94,613.33 971.27,613.01 971.61,612.81 971.94,613.07 972.27,614.7 972.6,616.13 972.93,615.04 973.26,614.98 973.59,617 973.92,614.5 974.25,614.48 974.58,615.74 974.91,615.88 975.25,614.53 975.58,614.51 975.91,616 976.24,616.08 976.57,614.77 976.9,615.91 977.23,615.43 977.56,616.19 977.89,615.49 978.22,615.35 978.55,614.93 978.88,616.09 979.22,616.25 979.55,614.41 979.88,615.4 980.21,613.69 980.54,614.32 980.87,614.82 981.2,615.4 981.53,613.38 981.86,613.51 982.19,613.61 982.52,611.76 982.86,613.1 983.19,612.23 983.52,613.12 983.85,611.4 984.18,610.16 984.51,611.85 984.84,611.71 985.17,610.49 985.5,611.64 985.83,610.04 986.16,609.31 986.49,610.11 986.83,607.51 987.16,608.11 987.49,608.46 987.82,609.07 988.15,607.56 988.48,607.73 988.81,606.25 989.14,606.99 989.47,608.21 989.8,605.09 990.13,608.34 990.47,604.39 990.8,604.84 991.13,604.73 991.46,605.48 991.79,602.42 992.12,601.05 992.45,604.1 992.78,604.05 993.11,603.55 993.44,605.8 993.77,602.44 994.1,602.21 994.44,602.79 994.77,601.78 995.1,603.17 995.43,599.1 995.76,599.93 996.09,595.58 996.42,600.92 996.75,599.05 997.08,600.5 997.41,601.87 997.74,598.94 998.08,598.93 998.41,598.94 998.74,598.83 999.07,599.44 999.4,601.44 999.73,600.98 1000.06,601.35 1000.39,601.37 1000.72,603.09 1001.05,602.88 1001.38,602.41 1001.71,603.75 1002.05,603.06 1002.38,602.15 1002.71,605.69 1003.04,605.15 1003.37,604.26 1003.7,607.47 1004.03,607.42 1004.36,606.07 1004.69,610.44 1005.02,609.83 1005.35,611.23 1005.69,611.3 1006.02,611.75 1006.35,611.35 1006.68,615.98 1007.01,617.23 1007.34,619.12 1007.67,621.78 1008,623.72 1008.33,626.02 1008.66,624.83 1008.99,624.6 1009.32,622.61 1009.66,623.38 1009.99,623.73 1010.32,623.77 1010.65,622.01 1010.98,621.73 1011.31,622.61 1011.64,620.63 1011.97,621.03 1012.3,621.35 1012.63,619.53 1012.96,620.07 1013.3,618.04 1013.63,618.67 1013.96,618.25 1014.29,618.26 1014.62,618.98 1014.95,619.93 1015.28,617.07 1015.61,616.98 1015.94,617.77 1016.27,616.22 1016.6,617.45 1016.93,617.35 1017.27,616.42 1017.6,616.99 1017.93,614.92 1018.26,616.87 1018.59,614.18 1018.92,614.12 1019.25,613.4 1019.58,612.71 1019.91,613.15 1020.24,611.52 1020.57,610.18 1020.91,610.35 1021.24,610.67 1021.57,608.1 1021.9,607.77 1022.23,608.29 1022.56,606.68 1022.89,604.37 1023.22,608.35 1023.55,607.55 1023.88,601.99 1024.21,603.87 1024.54,603.94 1024.88,604.14 1025.21,603.28 1025.54,601.89 1025.87,600.81 1026.2,602.2 1026.53,603.3 1026.86,600.5 1027.19,600.49 1027.52,601.69 1027.85,599.15 1028.18,601.21 1028.52,600.9 1028.85,601.96 1029.18,600.38 1029.51,600.06 1029.84,600.6 1030.17,600.96 1030.5,600.08 1030.83,600.87 1031.16,601.75 1031.49,602.23 1031.82,602.83 1032.15,599.48 1032.49,600.03 1032.82,597.42 1033.15,603.23 1033.48,599.9 1033.81,600.89 1034.14,601.7 1034.47,599.34 1034.8,601.8 1035.13,601.25 1035.46,599.02 1035.79,601.84 1036.13,603.09 1036.46,599.24 1036.79,602.76 1037.12,602.08 1037.45,602.51 1037.78,602.56 1038.11,603.74 1038.44,601.88 1038.77,603.37 1039.1,601.83 1039.43,603.35 1039.76,601.5 1040.1,602.48 1040.43,604.88 1040.76,603.35 1041.09,602.49 1041.42,601.13 1041.75,601.45 1042.08,602.57 1042.41,603.39 1042.74,602.62 1043.07,602.62 1043.4,601.78 1043.74,603.44 1044.07,601.08 1044.4,600.75 1044.73,602.49 1045.06,601.3 1045.39,600.73 1045.72,600.22 1046.05,600.51 1046.38,601.54 1046.71,601.06 1047.04,598.89 1047.37,600.91 1047.71,600.47 1048.04,598.78 1048.37,601.01 1048.7,599.49 1049.03,599.29 1049.36,600.68 1049.69,600.81 1050.02,597.44 1050.35,598.34 1050.68,595.87 1051.01,599.72 1051.35,595.09 1051.68,596.88 1052.01,593.56 1052.34,595.06 1052.67,596.53 1053,588.73 1053.33,591.25 1053.66,592.04 1053.99,590.78 1054.32,589.75 1054.65,594.01 1054.98,590.64 1055.32,587.81 1055.65,591.59 1055.98,587.41 1056.31,591.79 1056.64,588.93 1056.97,589.94 1057.3,591.58 1057.63,589.63 1057.96,587.09 1058.29,586.47 1058.62,590.93 1058.96,590.09 1059.29,587.46 1059.62,590.02 1059.95,589.3 1060.28,589.58 1060.61,585.47 1060.94,589.16 1061.27,591.6 1061.6,591.88 1061.93,592.65 1062.26,588.08 1062.59,592.65 1062.93,593.68 1063.26,597.29 1063.59,592.64 1063.92,594.12 1064.25,595.2 1064.58,596.97 1064.91,595.62 1065.24,598.41 1065.57,596.26 1065.9,597.73 1066.23,596.57 1066.57,597.48 1066.9,596.25 1067.23,594.93 1067.56,598.64 1067.89,597.49 1068.22,596.24 1068.55,597.25 1068.88,598.31 1069.21,595.51 1069.54,596.67 1069.87,597.54 1070.2,597.47 1070.54,596.21 1070.87,593.67 1071.2,598.34 1071.53,597.01 1071.86,596.51 1072.19,596.05 1072.52,596.77 1072.85,595.75 1073.18,594.85 1073.51,596.66 1073.84,596.66 1074.18,596.93 1074.51,596.29 1074.84,595.6 1075.17,596.66 1075.5,596.29 1075.83,595.07 1076.16,594.27 1076.49,592.94 1076.82,592.51 1077.15,591.61 1077.48,592.25 1077.81,592.25 1078.15,591.88 1078.48,592.83 1078.81,592.62 1079.14,591.98 1079.47,590.55 1079.8,589.64 1080.13,584.86 1080.46,584.06 1080.79,584.28 1081.12,583.37 1081.45,583.74 1081.79,583.53 1082.12,580.45 1082.45,582.47 1082.78,581.51 1083.11,580.98 1083.44,579.65 1083.77,579.92 1084.1,580.98 1084.43,578.59 1084.76,577.79 1085.09,570.08 1085.42,570.08 1085.76,574.07 1086.09,570.62 1086.42,571.41 1086.75,571.68 1087.08,569.55 1087.41,566.36 1087.74,566.36 1088.07,567.43 1088.4,568.22 1088.73,562.91 1089.06,558.09 1089.4,558.09 1089.73,558.09 1090.06,552.72 1090.39,552.72 1090.72,554.57 1091.05,554.57 1091.38,550.79 1091.71,552.72 1092.04,561.36 1092.37,561.36 1092.7,558.09 1093.03,554.57 1093.37,546.7 1093.7,552.72 1094.03,550.79 1094.36,548.78 1094.69,552.72 1095.02,550.79 1095.35,548.78 1095.68,550.79 1096.01,554.57 1096.34,552.72 1096.67,554.57 1097.01,556.36 1097.34,552.72 1097.67,550.79 1098,548.78 1098.33,548.78 1098.66,537.45 1098.99,529.39 1099.32,529.39 1099.65,523.36 1099.98,526.45 1100.31,529.39 1100.64,526.45 1100.98,529.39 1101.31,526.45 1101.64,520.12 1101.97,509.35 1102.3,513.13 1102.63,505.36 1102.96,505.36 1103.29,496.67 1103.62,496.67 1104,496.46 1104.33,481.32 1104.66,475.59 1104.99,481.32 1105.32,469.48 1105.65,455.88 1105.99,440.11 1106.32,431.24 1106.65,431.24 1106.98,448.3 1107.31,462.92 1107.64,469.48 1107.97,448.3 1108.3,440.11 1108.63,455.88 1108.96,455.88 1109.29,455.88 1109.62,455.88 1109.96,455.88 1110.29,462.92 1110.62,486.68 1110.95,475.59 1111.28,481.32 1111.61,475.59 1111.94,475.59 1112.27,475.59 1112.6,486.68 1112.93,469.48 1113.26,469.48 1113.6,469.48 1113.93,475.59 1114.26,469.48 1114.59,462.92 1114.92,448.3 1115.25,455.88 1115.58,448.3 1115.91,440.11 1116.24,440.11 1116.57,399.56 1116.9,399.56 1117.23,411.08 1117.57,386.89 1117.9,399.56 1118.23,399.56 1118.56,386.89 1118.89,386.89 1119.22,386.89 1119.55,372.88 1119.88,372.88 1120.21,339.93 1120.54,339.93 1120.87,339.93 1121.21,357.32 1121.54,386.89 1121.87,386.89 1122.2,399.56 1122.53,399.56 1122.86,399.56 1123.19,411.08 1123.52,386.89 1123.85,386.89 1124.18,372.88 1124.51,386.89 1124.84,386.89 1125.18,386.89 1125.51,372.88 1125.84,372.88 1126.17,357.32 1126.5,339.93 1126.83,339.93 1127.16,339.93 1127.49,320.36 1127.82,320.36 1128.15,339.93 1128.48,339.93 1128.82,320.36 1129.15,339.93 1129.48,339.93 1129.81,320.36 1130.14,339.93 1130.47,357.32 1130.8,357.32 1131.13,357.32 1131.46,372.88 1131.79,357.32 1132.12,339.93 1132.45,339.93 1132.79,339.93 1133.12,320.36 1133.45,320.36 1133.78,320.36 1134.11,320.36 1134.44,339.93 1134.77,339.93 1135.1,320.36 1135.43,339.93 1135.76,339.93 1136.09,339.93 1136.43,339.93 1136.76,320.36 1137.09,320.36 1137.42,320.36 1137.75,298.19 1138.08,298.19 1138.41,298.19 1138.74,320.36 1139.07,320.36 1139.4,339.93 1139.73,339.93 1140.06,339.93 1140.4,357.32 1140.73,372.88 1141.06,372.88 1141.39,372.88 1141.72,386.89 1142.05,357.32 1142.38,357.32 1142.71,357.32 1143.04,357.32 1143.37,339.93 1143.7,339.93 1144.04,339.93 1144.37,339.93 1144.7,357.32 1145.03,339.93 1145.36,339.93 1145.69,339.93 1146.02,339.93 1146.35,339.93 1146.68,339.93 1147.01,339.93 1147.34,386.89 1147.67,386.89 1148.01,386.89 1148.34,399.56 1148.67,399.56 1149,411.08 1149.33,421.6 1149.66,455.88 1149.99,431.24 1150.32,448.3 1150.65,448.3 1150.98,462.92 1151.31,440.11 1151.65,448.3 1151.98,440.11 1152.31,448.3 1152.64,462.92 1152.97,462.92 1153.3,462.92 1153.63,448.3 1153.96,455.88 1154.29,448.3 1154.62,440.11 1154.95,455.88 1155.28,462.92 1155.62,455.88 1155.95,469.48 1156.28,469.48 1156.61,448.3 1156.94,455.88 1157.27,448.3 1157.6,462.92 1157.93,440.11 1158.26,431.24 1158.59,431.24 1158.92,448.3 1159.26,448.3 1159.59,455.88 1159.92,462.92 1160.25,462.92 1160.58,481.32 1160.91,475.59 1161.24,469.48 1161.57,462.92 1161.9,481.32 1162.23,481.32 1162.56,462.92 1162.89,469.48 1163.23,455.88 1163.56,462.92 1163.89,469.48 1164.22,469.48 1164.55,462.92 1164.88,462.92 1165.21,469.48 1165.54,469.48 1165.87,469.48 1166.2,475.59 1166.53,469.48 1166.87,469.48 1167.2,469.48 1167.53,475.59 1167.86,475.59 1168.19,475.59 1168.52,481.32 1168.85,481.32 1169.18,481.32 1169.51,481.32 1169.84,486.68 1170.17,491.72 1170.5,481.32 1170.84,475.59 1171.17,469.48 1171.5,469.48 1171.83,462.92 1172.16,448.3 1172.49,440.11 1172.82,440.11 1173.15,440.11 1173.48,421.6 1173.81,431.24 1174.14,440.11 1174.48,440.11 1174.81,448.3 1175.14,440.11 1175.47,431.24 1175.8,421.6 1176.13,411.08 1176.46,411.08 1176.79,399.56 1177.12,399.56 1177.45,399.56 1177.78,411.08 1178.11,386.89 1178.45,399.56 1178.78,399.56 1179.11,399.56 1179.44,411.08 1179.77,411.08 1180.1,399.56 1180.43,386.89 1180.76,386.89 1181.09,386.89 1181.42,386.89 1181.75,386.89 1182.09,386.89 1182.42,399.56 1182.75,386.89 1183.08,386.89 1183.41,386.89 1183.74,399.56 1184.07,399.56 1184.4,386.89 1184.73,386.89 1185.06,386.89 1185.39,386.89 1185.72,372.88 1186.06,357.32 1186.39,399.56 1186.72,399.56 1187.05,399.56 1187.38,411.08 1187.71,411.08 1188.04,399.56 1188.37,411.08 1188.7,399.56 1189.03,386.89 1189.36,386.89 1189.7,399.56 1190.03,386.89 1190.36,399.56 1190.69,421.6 1191.02,431.24 1191.35,411.08 1191.68,411.08 1192.01,421.6 1192.34,421.6 1192.67,421.6 1193,421.6 1193.33,431.24 1193.67,431.24 1194,411.08 1194.33,386.89 1194.66,386.89 1194.99,386.89 1195.32,386.89 1195.65,372.88 1195.98,357.32 1196.31,357.32 1196.64,357.32 1196.97,357.32 1197.31,357.32 1197.64,339.93 1197.97,339.93 1198.3,339.93 1198.63,339.93 1198.96,320.36 1199.29,320.36 1199.62,320.36 1199.95,320.36 1200.28,298.19 1200.61,298.19 1200.94,298.19" fill="none" stroke="#fca311" stroke-width="3" stroke-linejoin="round" stroke-linecap="round" marker-start="url(#pt)" marker-mid="url(#pt)" marker-end="url(#pt)"/></g>
</svg>
</body>
</html>
